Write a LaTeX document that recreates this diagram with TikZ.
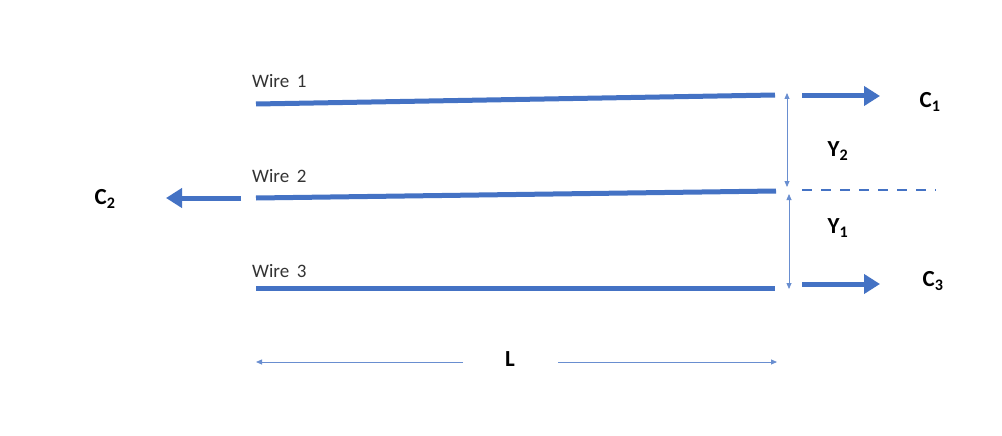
\documentclass[tikz,border=0pt]{standalone}
\usepackage{fontspec}
\setmainfont{Carlito}
\usetikzlibrary{arrows.meta}
\definecolor{wireblue}{RGB}{68,114,196}
\begin{document}
\begin{tikzpicture}[x=1pt,y=-1pt,
  wire/.style={draw=wireblue,line width=5pt},
  current/.style={draw=wireblue,line width=5pt,-{Triangle[length=16pt,width=19pt]}},
  dim/.style={draw=wireblue!80,line width=0.8pt,{Triangle[length=6pt,width=5pt]}-{Triangle[length=6pt,width=5pt]}},
  dimone/.style={draw=wireblue!80,line width=0.8pt,-{Triangle[length=6pt,width=5pt]}},
  lbl/.style={font=\fontsize{19}{22}\selectfont,text=black!80,inner sep=0pt},
  sym/.style={font=\fontsize{23}{26}\selectfont\bfseries,inner sep=0pt}]
\useasboundingbox[fill=white] (0,0) rectangle (1002,436);
% wire ends
\coordinate (w1a) at (256,104); \coordinate (w1b) at (775,95);
\coordinate (w2a) at (256,198); \coordinate (w2b) at (776,191);
\coordinate (w3a) at (256,288); \coordinate (w3b) at (775,288);
\draw[wire] (w1a) -- (w1b);
\draw[wire] (w2a) -- (w2b);
\draw[wire] (w3a) -- (w3b);
\node[lbl,anchor=base west] (l1) at (252,88) {Wire\, 1};
\node[lbl,anchor=base west] (l2) at (252,182) {Wire\, 2};
\node[lbl,anchor=base west] (l3) at (252,277) {Wire\, 3};
% current arrows
\coordinate (c1s) at (802,96); \coordinate (c1e) at (880,96);
\coordinate (c3s) at (802,284); \coordinate (c3e) at (880,284);
\coordinate (c2s) at (241,198); \coordinate (c2e) at (166,198);
\draw[current] (c1s) -- (c1e);
\draw[current] (c3s) -- (c3e);
\draw[current] (c2s) -- (c2e);
\node[sym] (C1) at (930,102) {C\textsubscript{1}};
\node[sym] (C3) at (933,281) {C\textsubscript{3}};
\node[sym] (C2) at (105,199) {C\textsubscript{2}};
% vertical dimensions
\coordinate (y2t) at (787,93); \coordinate (y2b) at (787,187);
\coordinate (y1t) at (789,194); \coordinate (y1b) at (789,289);
\draw[dim] (y2t) -- (y2b);
\draw[dim] (y1t) -- (y1b);
\node[sym] (Y2) at (838,151) {Y\textsubscript{2}};
\node[sym] (Y1) at (838,228) {Y\textsubscript{1}};
\coordinate (ds) at (802,190); \coordinate (de) at (936,190);
\draw[draw=wireblue,line width=2.2pt,dash pattern=on 10pt off 9pt] (ds) -- (de);
% L dimension
\node[sym] (L) at (510,359) {L};
\coordinate (La) at (463,362); \coordinate (Lb) at (256,362);
\coordinate (Lc) at (558,362); \coordinate (Ld) at (777,362);
\draw[dimone] (La) -- (Lb);
\draw[dimone] (Lc) -- (Ld);
\end{tikzpicture}
\end{document}
